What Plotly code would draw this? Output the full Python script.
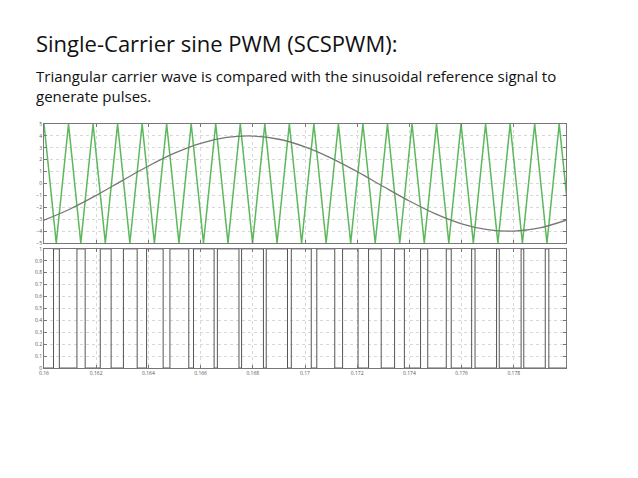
import plotly.graph_objects as go
import numpy as np

sine_t = [0.160,0.161,0.162,0.163,0.164,0.165,0.166,0.167,0.168,0.169,0.170,
          0.171,0.172,0.173,0.174,0.175,0.176,0.177,0.178,0.179,0.180]
sine_v = [-3.08,-2.14,-1.00,0.25,1.47,2.55,3.38,3.87,3.99,3.72,3.08,
          2.14,1.00,-0.25,-1.47,-2.55,-3.38,-3.87,-3.99,-3.72,-3.08]
carrier_t = [0.16000,0.16047,0.16094,0.16141,0.16188,0.16235,0.16282,0.16329,0.16376,
             0.16423,0.16470,0.16517,0.16564,0.16611,0.16658,0.16705,0.16752,0.16799,
             0.16846,0.16893,0.16940,0.16987,0.17034,0.17081,0.17128,0.17175,0.17222,
             0.17269,0.17316,0.17363,0.17410,0.17457,0.17504,0.17551,0.17598,0.17645,
             0.17692,0.17739,0.17786,0.17833,0.17880,0.17927,0.17974,0.18021]
carrier_v = [5,-5]*22
x_ticks = [0.16,0.162,0.164,0.166,0.168,0.17,0.172,0.174,0.176,0.178]
x_labels = ["0.16","0.162","0.164","0.166","0.168","0.17","0.172","0.174","0.176","0.178"]

tt = np.linspace(0.16, 0.18, 8001)
sv = np.interp(tt, sine_t, sine_v)
cv = np.interp(tt, carrier_t, carrier_v)
pulse = (sv > cv).astype(float)

fig = go.Figure()
fig.add_trace(go.Scatter(x=carrier_t, y=carrier_v, mode="lines",
                         line=dict(color="#5cb85c", width=1.5), xaxis="x2", yaxis="y2"))
fig.add_trace(go.Scatter(x=sine_t, y=sine_v, mode="lines", line_shape="spline",
                         line=dict(color="#777777", width=1.3), xaxis="x2", yaxis="y2"))
fig.add_trace(go.Scatter(x=tt, y=pulse, mode="lines", line_shape="hv",
                         line=dict(color="#555555", width=1), xaxis="x", yaxis="y"))

ax = dict(showline=True, mirror="ticks", linecolor="#777", linewidth=1, ticks="inside",
          ticklen=3, tickcolor="#777", showgrid=True, gridcolor="#d8d8d8", griddash="dot",
          zeroline=False, tickfont=dict(size=5, color="#555"))
fig.update_layout(
    width=638, height=478, showlegend=False, plot_bgcolor="white", paper_bgcolor="white",
    margin=dict(l=36, r=80, t=116, b=118),
    xaxis=dict(ax, range=[0.16, 0.18], tickvals=x_ticks, ticktext=x_labels, anchor="y"),
    xaxis2=dict(ax, range=[0.16, 0.18], tickvals=x_ticks, showticklabels=False, anchor="y2", matches="x"),
    yaxis=dict(ax, range=[0, 1], dtick=0.1, domain=[0, 0.488]),
    yaxis2=dict(ax, range=[-5, 5], dtick=1, domain=[0.512, 1]),
    font=dict(family="Open Sans"),
)
fig.add_annotation(text="Single-Carrier sine PWM (SCSPWM):", xref="paper", yref="paper",
                   x=-0.02, y=1.332, xanchor="left", yanchor="middle", showarrow=False,
                   font=dict(size=22, color="#111", family="Open Sans"))
fig.add_annotation(text="Triangular carrier wave is compared with the sinusoidal reference signal to<br>generate pulses.",
                   xref="paper", yref="paper", x=-0.02, y=1.156, xanchor="left", yanchor="middle",
                   align="left", showarrow=False, font=dict(size=15, color="#111", family="Open Sans"))
fig.write_html("out.html")
